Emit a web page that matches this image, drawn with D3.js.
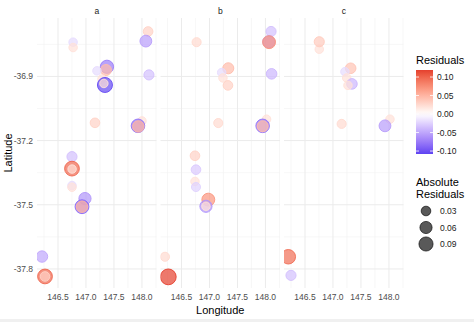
<!doctype html>
<html>
<head>
    <meta charset="UTF-8">
    <title>residual map</title>
    <script src="https://cdn.jsdelivr.net/npm/d3@7"></script>
    <style>
        body{ margin:0; background:#fff; }
        text{ font-family:"Liberation Sans", Arial, sans-serif; }
    </style>
</head>
<body>
    <div id="chart"></div>

    <script>
        // station residuals, one set of arrays per facet
        var aLon = [146.77, 146.77, 148.11, 148.07, 147.375, 147.357, 147.196, 147.286, 147.339, 147.32, 148.125, 147.161, 148.0, 147.929, 147.935, 146.75, 146.75, 146.752, 146.75, 146.75, 146.982, 146.929, 146.929, 146.214, 146.268, 146.268];
        var aLat = [-36.74, -36.765, -36.69, -36.735, -36.855, -36.87, -36.874, -36.912, -36.94, -36.933, -36.893, -37.117, -37.108, -37.131, -37.134, -37.275, -37.331, -37.333, -37.41, -37.418, -37.471, -37.509, -37.509, -37.742, -37.835, -37.835];
        var aRes = [-0.02, 0.02, 0.03, -0.055, -0.075, 0.045, -0.02, 0.02, -0.105, 0.02, -0.035, 0.03, 0.02, -0.08, 0.05, -0.035, 0.1, 0.02, -0.02, 0.02, -0.06, -0.085, 0.05, -0.05, 0.1, 0.03];

        var bLon = [146.77, 148.10, 148.06, 148.065, 148.11, 147.336, 147.218, 147.241, 147.33, 147.157, 148.02, 147.95, 147.95, 146.741, 146.759, 146.741, 146.759, 146.979, 146.937, 146.937, 146.205, 146.264];
        var bLat = [-36.74, -36.69, -36.738, -36.74, -36.888, -36.862, -36.882, -36.907, -36.942, -37.118, -37.10, -37.131, -37.133, -37.271, -37.336, -37.391, -37.417, -37.476, -37.507, -37.507, -37.743, -37.837];
        var bRes = [0.025, -0.035, -0.06, 0.07, -0.04, 0.045, -0.02, 0.02, 0.03, 0.025, 0.02, -0.08, 0.045, 0.03, -0.03, 0.02, -0.025, 0.07, -0.06, 0.02, 0.025, 0.119];

        var cLon = [146.755, 146.755, 147.316, 147.214, 147.245, 147.339, 147.268, 147.155, 148.018, 147.929, 146.202, 146.25];
        var cLat = [-36.773, -36.738, -36.862, -36.878, -36.907, -36.935, -36.942, -37.122, -37.10, -37.131, -37.743, -37.83];
        var cRes = [0.02, 0.035, 0.04, -0.02, 0.02, -0.04, 0.02, 0.025, 0.02, -0.055, 0.095, -0.035];

        var facets = ["a", "b", "c"];
        var xTicks = [146.5, 147.0, 147.5, 148.0];
        var xMinor = [146.25, 146.75, 147.25, 147.75, 148.25];
        var yTicks = [-36.9, -37.2, -37.5, -37.8];
        var yMinor = [-36.75, -37.05, -37.35, -37.65];
        var colourTicks = [0.10, 0.05, 0.00, -0.05, -0.10];
        var sizeBreaks = [0.03, 0.06, 0.09];

        var w = 474, h = 322;
        var panelTop = 18, panelBottom = 288, panelLeft = 37, panelW = 119.5, step = 123.5;

        // plain hyphen for negatives
        var fmt1 = function(d){ return d.toFixed(1); };
        var fmt2 = function(d){ return d.toFixed(2); };

        var svg = d3.select("#chart").append("svg")
            .attr("width", w).attr("height", h);

        svg.append("rect").attr("width", w).attr("height", h).attr("fill", "#fff");
        svg.append("rect").attr("x", 0).attr("y", 319).attr("width", w).attr("height", 3).attr("fill", "#f0f0f0");

        var x = d3.scaleLinear().domain([146.125, 148.26]).range([0, panelW]);
        var y = d3.scaleLinear().domain([-37.889, -36.627]).range([panelBottom, panelTop]);

        var colLo = "#3f30f0", colHi = "#e5402e";
        var colour = d3.scaleLinear().domain([-0.119, 0, 0.119])
            .range([colLo, "#ffffff", colHi]).interpolate(d3.interpolateLab);
        var size = d3.scaleSqrt().domain([0, 0.119]).range([1.7, 7.9]);

        var panelData = [
            {lon: aLon, lat: aLat, res: aRes},
            {lon: bLon, lat: bLat, res: bRes},
            {lon: cLon, lat: cLat, res: cRes}
        ];

        facets.forEach(function(f, i){
            var left = panelLeft + step * i;
            var g = svg.append("g").attr("transform", "translate(" + left + ",0)");

            g.append("clipPath").attr("id", "clip" + f)
             .append("rect").attr("x", 0).attr("y", panelTop)
             .attr("width", panelW).attr("height", panelBottom - panelTop);

            // grid
            g.selectAll(".xminor").data(xMinor).enter().append("line")
             .attr("x1", function(d){ return x(d); }).attr("x2", function(d){ return x(d); })
             .attr("y1", panelTop).attr("y2", panelBottom)
             .attr("stroke", "#f2f2f2").attr("stroke-width", 0.6);
            g.selectAll(".yminor").data(yMinor).enter().append("line")
             .attr("x1", 0).attr("x2", panelW)
             .attr("y1", function(d){ return y(d); }).attr("y2", function(d){ return y(d); })
             .attr("stroke", "#f2f2f2").attr("stroke-width", 0.6);
            g.selectAll(".xmajor").data(xTicks).enter().append("line")
             .attr("x1", function(d){ return x(d); }).attr("x2", function(d){ return x(d); })
             .attr("y1", panelTop).attr("y2", panelBottom)
             .attr("stroke", "#ebebeb").attr("stroke-width", 1);
            g.selectAll(".ymajor").data(yTicks).enter().append("line")
             .attr("x1", 0).attr("x2", panelW)
             .attr("y1", function(d){ return y(d); }).attr("y2", function(d){ return y(d); })
             .attr("stroke", "#ebebeb").attr("stroke-width", 1);

            // strip label
            g.append("text").attr("x", panelW / 2).attr("y", 14)
             .attr("text-anchor", "middle").attr("font-size", 8.5).attr("fill", "#1a1a1a")
             .text(f);

            // x axis labels
            g.selectAll(".xlab").data(xTicks).enter().append("text")
             .attr("x", function(d){ return x(d); }).attr("y", 300)
             .attr("text-anchor", "middle").attr("font-size", 8.5).attr("fill", "#4d4d4d")
             .text(fmt1);

            // points
            var p = panelData[i];
            var pts = p.lon.map(function(d, k){ return {lon: d, lat: p.lat[k], res: p.res[k]}; });
            g.append("g").attr("clip-path", "url(#clip" + f + ")")
             .selectAll("circle").data(pts).enter().append("circle")
             .attr("cx", function(d){ return x(d.lon); })
             .attr("cy", function(d){ return y(d.lat); })
             .attr("r", function(d){ return size(Math.abs(d.res)); })
             .attr("fill", function(d){ return colour(d.res); })
             .attr("fill-opacity", 0.7)
             .attr("stroke", function(d){ return colour(d.res); })
             .attr("stroke-width", 0.9);
        });

        // y axis labels
        svg.selectAll(".ylab").data(yTicks).enter().append("text")
           .attr("x", 33).attr("y", function(d){ return y(d) + 3; })
           .attr("text-anchor", "end").attr("font-size", 8.5).attr("fill", "#4d4d4d")
           .text(fmt1);

        // axis titles
        svg.append("text").attr("x", panelLeft + (step * 2 + panelW) / 2).attr("y", 314)
           .attr("text-anchor", "middle").attr("font-size", 11).attr("fill", "#000")
           .text("Longitude");
        svg.append("text").attr("transform", "translate(12," + ((panelTop + panelBottom) / 2) + ") rotate(-90)")
           .attr("text-anchor", "middle").attr("font-size", 11).attr("fill", "#000")
           .text("Latitude");

        // colour legend
        var lg = svg.append("g");
        lg.append("text").attr("x", 416).attr("y", 64).attr("font-size", 11).text("Residuals");

        var barX = 416, barW = 17, barTop = 70, barBottom = 154;
        var barScale = d3.scaleLinear().domain([-0.108, 0.119]).range([barBottom, barTop]);
        var grad = svg.append("defs").append("linearGradient").attr("id", "resgrad")
            .attr("x1", 0).attr("y1", 1).attr("x2", 0).attr("y2", 0);
        d3.range(0, 1.0001, 0.05).forEach(function(t){
            var v = -0.108 + t * (0.119 + 0.108);
            grad.append("stop").attr("offset", t).attr("stop-color", colour(v));
        });
        lg.append("rect").attr("x", barX).attr("y", barTop).attr("width", barW)
          .attr("height", barBottom - barTop).attr("fill", "url(#resgrad)");
        colourTicks.forEach(function(d){
            var ty = barScale(d);
            lg.append("line").attr("x1", barX).attr("x2", barX + 3).attr("y1", ty).attr("y2", ty)
              .attr("stroke", "#fff").attr("stroke-width", 0.8);
            lg.append("line").attr("x1", barX + barW - 3).attr("x2", barX + barW).attr("y1", ty).attr("y2", ty)
              .attr("stroke", "#fff").attr("stroke-width", 0.8);
            lg.append("text").attr("x", 437).attr("y", ty + 3).attr("font-size", 8.5).attr("fill", "#1a1a1a")
              .text(fmt2(d));
        });

        // size legend
        lg.append("text").attr("x", 416).attr("y", 186).attr("font-size", 11).text("Absolute");
        lg.append("text").attr("x", 416).attr("y", 198).attr("font-size", 11).text("Residuals");
        var keyY = d3.scalePoint().domain(sizeBreaks).range([211, 244]);
        sizeBreaks.forEach(function(d){
            lg.append("circle").attr("cx", 426).attr("cy", keyY(d)).attr("r", size(d))
              .attr("fill", "#000").attr("fill-opacity", 0.65)
              .attr("stroke", "#000").attr("stroke-opacity", 0.8).attr("stroke-width", 0.8);
            lg.append("text").attr("x", 440).attr("y", keyY(d) + 3).attr("font-size", 8.5).attr("fill", "#1a1a1a")
              .text(fmt2(d));
        });
    </script>
</body>
</html>
